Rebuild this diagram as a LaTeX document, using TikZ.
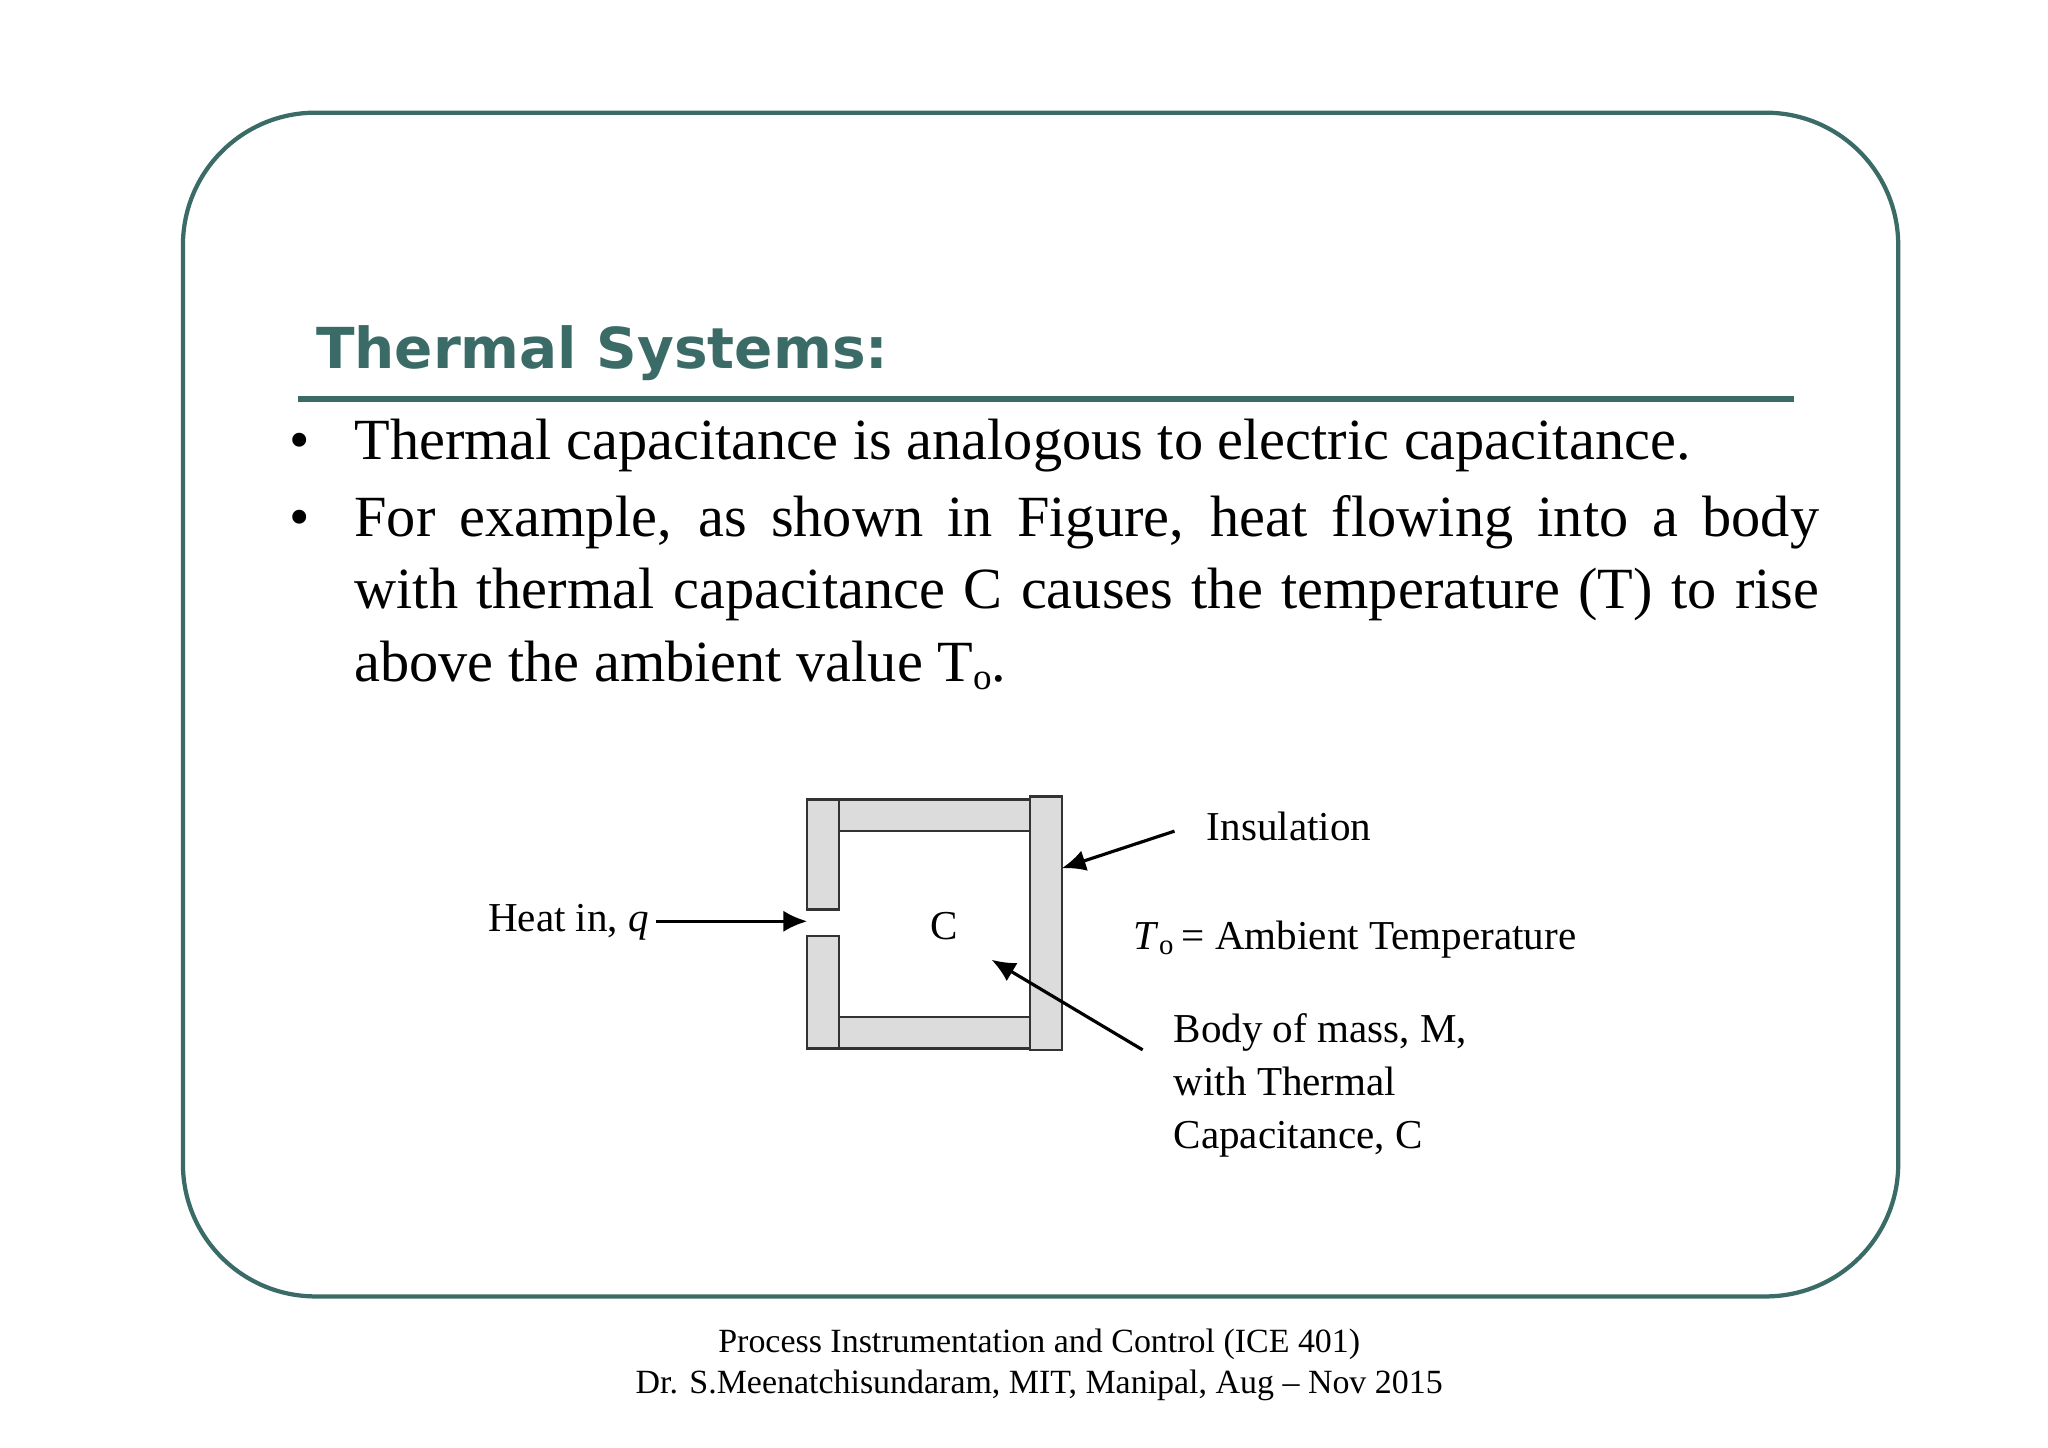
\documentclass[tikz,border=0pt]{standalone}
\usepackage{fontspec}
\setmainfont{Liberation Serif}
\newfontfamily\titlefont{DejaVu Sans}
\usetikzlibrary{arrows.meta}
\definecolor{teal}{HTML}{3A6B66}
\definecolor{wall}{HTML}{DCDCDC}
\begin{document}
\begin{tikzpicture}[x=0.5pt,y=-0.5pt,
  wallbox/.style={draw=black!80,fill=wall,line width=0.9pt},
  fig/.style={font=\fontsize{15.5}{20}\selectfont,inner sep=0pt},
  arr/.style={-{Latex[length=9pt,width=8pt]},line width=1.2pt},
  body/.style={anchor=base west,inner sep=0pt,font=\fontsize{22}{27}\selectfont}]
\useasboundingbox (0,0) rectangle (1545,1092);
\draw[teal,line width=1.6pt,rounded corners=50pt] (138,85) rectangle (1432,978);
\node[anchor=base west,inner sep=0pt,text=teal,font=\titlefont\bfseries\fontsize{21.3}{24}\selectfont] (title) at (238,278) {Thermal Systems:};
\draw[teal,line width=2.4pt] (225,301) -- (1353,301);
\node[body] (b1) at (218,347) {•};
\node[body] (t1) at (267,347) {Thermal capacitance is analogous to electric capacitance.};
\node[body] (b2) at (218,405) {•};
\node[body] (t2a) at (267,405) {\makebox[552.5pt][s]{For example, as shown in Figure, heat flowing into a body}};
\node[body] (t2b) at (267,459) {\makebox[552.5pt][s]{with thermal capacitance C causes the temperature (T) to rise}};
\node[body] (t2c) at (267,514) {above the ambient value T\raisebox{-0.3ex}{\fontsize{14}{16}\selectfont o}.};
% figure
\draw[wallbox] (609,603) rectangle (633,686);
\draw[wallbox] (609,706) rectangle (633,791);
\draw[wallbox] (633,603) rectangle (777,627);
\draw[wallbox] (633,767) rectangle (777,791);
\draw[wallbox] (777,601) rectangle (801,792);
\coordinate (hs) at (495,695);
\coordinate (gap) at (609,695);
\coordinate (is) at (886,627);
\coordinate (rw) at (801,655);
\coordinate (bs) at (862,792);
\coordinate (cin) at (748,724);
\node[fig,anchor=base east] (heat) at (490,703) {Heat in, \textit{q}};
\node[fig] (c) at (712,699) {C};
\node[fig,anchor=base west] (ins) at (910,634) {Insulation};
\node[fig,anchor=base west] (amb) at (855,716) {\textit{T}\textsubscript{o}\,= Ambient Temperature};
\node[fig,anchor=north west,align=left,font=\fontsize{15.5}{20}\selectfont] (body) at (885,764) {Body of mass, M,\\with Thermal\\Capacitance, C};
\draw[arr] (hs) -- (gap);
\draw[arr] (is) -- (rw);
\draw[arr] (bs) -- (cin);
\node[anchor=base,inner sep=0pt,font=\fontsize{12.8}{15}\selectfont] (f1) at (784,1020) {Process Instrumentation and Control (ICE 401)};
\node[anchor=base,inner sep=0pt,font=\fontsize{12.8}{15}\selectfont] (f2) at (784,1051) {Dr. S.Meenatchisundaram, MIT, Manipal, Aug -- Nov 2015};
\end{tikzpicture}
\end{document}
